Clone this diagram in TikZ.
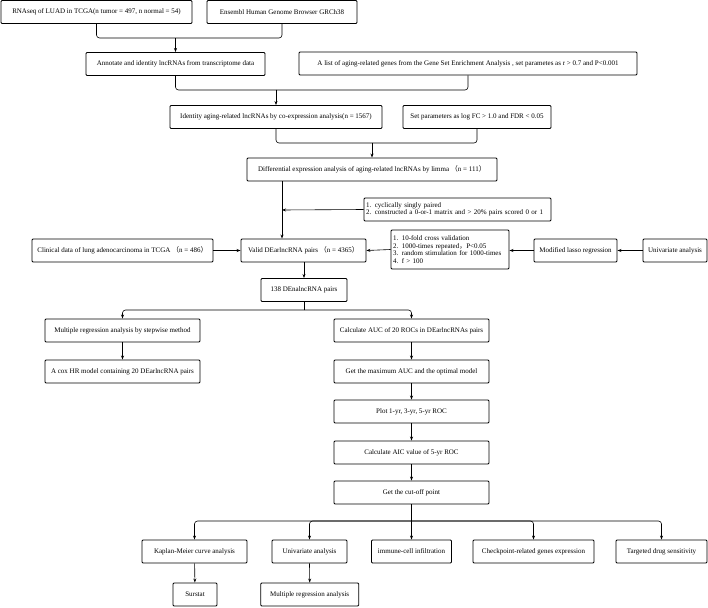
\documentclass[tikz,border=0pt]{standalone}
\usepackage{fontspec}
\setmainfont{Liberation Serif}
\newfontfamily\cjk{Noto Sans CJK SC}
\newcommand{\lp}{{\cjk （}}
\newcommand{\rp}{{\cjk ）}}
\newcommand{\cm}{{\cjk ，}}
\usetikzlibrary{arrows.meta}
\begin{document}
\begin{tikzpicture}[x=1pt,y=-1pt,
  bx/.style={draw,line width=0.9pt,rounded corners=1pt,inner sep=0pt,align=center,font=\fontsize{7}{7.6}\selectfont,minimum height=23pt},
  ln/.style={line width=0.6pt,rounded corners=3pt},
  arr/.style={ln,-{Stealth[length=4pt,width=3pt]}}]
\useasboundingbox (0,0) rectangle (708,607);
\node[bx,minimum width=191] (A) at (96.5,12) {RNAseq of LUAD in TCGA(n tumor = 497, n normal = 54)};
\node[bx,minimum width=150] (B) at (282,12) {Ensembl Human Genome Browser GRCh38};
\node[bx,minimum width=179] (C) at (175.5,64) {Annotate and identity lncRNAs from transcriptome data};
\node[bx,minimum width=338] (D) at (468,63.5) {A list of aging-related genes from the Gene Set Enrichment Analysis , set  parametes as r > 0.7 and P<0.001};
\node[bx,minimum width=212] (E) at (276,117) {Identity aging-related lncRNAs by co-expression analysis(n = 1567)};
\node[bx,minimum width=148] (F) at (477,117) {Set parameters as log FC > 1.0 and FDR < 0.05};
\node[bx,minimum width=250] (G) at (372,169.5) {Differential expression analysis of aging-related lncRNAs by limma \lp n = 111\rp};
\node[bx,minimum width=187,align=left,text width=183] (I) at (457.5,209.5) {1. cyclically singly paired\\2. constructed a 0-or-1 matrix and  > 20\% pairs scored 0 or 1};
\node[bx,minimum width=125] (H) at (303.5,250.5) {Valid DEarlncRNA pairs \lp n =  4365\rp};
\node[bx,minimum width=181] (CL) at (122.5,250.5) {Clinical data of lung adenocarcinoma in TCGA \lp n = 486\rp};
\node[bx,minimum width=118,minimum height=39,align=left,text width=114] (J) at (450,249.5) {1. 10-fold cross validation\\2. 1000-times repeated\cm P<0.05\\3. random stimulation for 1000-times\\4. f > 100};
\node[bx,minimum width=83] (K) at (575.5,250.5) {Modified lasso regression};
\node[bx,minimum width=64] (L) at (675,250.5) {Univariate analysis};
\node[bx,minimum width=86] (M) at (304,290) {138 DEnalncRNA pairs};
\node[bx,minimum width=155] (N) at (122.5,330.5) {Multiple regression analysis by stepwise method};
\node[bx,minimum width=155] (O) at (122.5,371.5) {A cox HR model containing 20 DEarlncRNA pairs};
\node[bx,minimum width=155] (P) at (411.5,330.5) {Calculate AUC of 20 ROCs in DEarlncRNAs pairs};
\node[bx,minimum width=155] (Q) at (411.5,371.5) {Get the maximum AUC and the optimal model};
\node[bx,minimum width=155] (R) at (411.5,411.5) {Plot 1-yr, 3-yr, 5-yr ROC};
\node[bx,minimum width=155] (S) at (411.5,452.5) {Calculate AIC value of 5-yr ROC};
\node[bx,minimum width=155] (T) at (411.5,492.5) {Get the cut-off point};
\node[bx,minimum width=105] (U1) at (194.5,551.5) {Kaplan-Meier curve analysis};
\node[bx,minimum width=75] (U2) at (309.5,551.5) {Univariate analysis};
\node[bx,minimum width=80] (U3) at (411.5,551.5) {immune-cell infiltration};
\node[bx,minimum width=121] (U4) at (533.5,551.5) {Checkpoint-related genes expression};
\node[bx,minimum width=91] (U5) at (661.5,551.5) {Targeted drug sensitivity};
\node[bx,minimum width=44] (V) at (195,594.5) {Surstat};
\node[bx,minimum width=98] (W) at (309.7,594.5) {Multiple regression analysis};
% merges
\coordinate (j1) at (175.5,38);
\draw[ln] (A.south) |- (j1); \draw[ln] (B.south) |- (j1);
\draw[arr] (j1) -- (C.north);
\coordinate (j2) at (276,90);
\draw[ln] (C.south) |- (j2); \draw[ln] (D.south) |- (j2);
\draw[arr] (j2) -- (E.north);
\coordinate (j3) at (372,143);
\draw[ln] (E.south) |- (j3); \draw[ln] (F.south) |- (j3);
\draw[arr] (j3) -- (G.north);
\coordinate (g1) at (282,181);
\draw[arr] (g1) -- (g1 |- H.north);
\coordinate (g2) at (282,210);
\draw[arr] (I.west) -- (g2);
\draw[arr] (CL.east) -- (H.west);
\draw[arr] (J.west) -- (H.west -| H.east);
\draw[arr] (K.west) -- (J.east |- K.west);
\draw[arr] (L.west) -- (K.east);
\draw[arr] (H.south -| M.north) -- (M.north);
% split 1
\coordinate (s1) at (304,310);
\draw[ln] (M.south) -- (s1);
\draw[arr] (s1) -| (N.north);
\draw[arr] (s1) -| (P.north);
\draw[arr] (N) -- (O);
\draw[arr] (P) -- (Q);
\draw[arr] (Q) -- (R);
\draw[arr] (R) -- (S);
\draw[arr] (S) -- (T);
% split 2
\coordinate (s2) at (411.5,521);
\draw[ln] (T.south) -- (s2);
\foreach \u in {U1,U2,U4,U5} \draw[arr] (s2) -| (\u.north);
\draw[arr] (s2) -- (U3.north);
\draw[arr] (U1) -- (V);
\draw[arr] (U2.south) -- (W.north);
\end{tikzpicture}
\end{document}
